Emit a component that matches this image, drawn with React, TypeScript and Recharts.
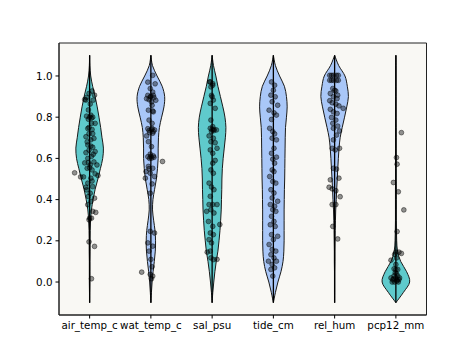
import React from 'react';
import { ScatterChart, Scatter, XAxis, YAxis, CartesianGrid, ReferenceArea } from 'recharts';

// ---------- data ----------
const CATEGORIES = ['air_temp_c', 'wat_temp_c', 'sal_psu', 'tide_cm', 'rel_hum', 'pcp12_mm'];
const POSITIONS = [1, 2, 3, 4, 5, 6];
const Y_TICKS = [0, 0.2, 0.4, 0.6, 0.8, 1.0];

// density levels (value axis) for the violin outlines
const LEVELS = [
  -0.1, -0.05, 0, 0.05, 0.1, 0.15, 0.2, 0.25, 0.3, 0.35, 0.4, 0.45, 0.5,
  0.55, 0.6, 0.65, 0.7, 0.75, 0.8, 0.85, 0.9, 0.95, 1.0, 1.05, 1.1,
];

// relative density (1 = widest) of each violin at LEVELS
const airDensity = [0, 0.01, 0.02, 0.02, 0.02, 0.03, 0.03, 0.04, 0.07, 0.13, 0.25, 0.4, 0.6, 0.78, 0.95, 1.0, 0.9, 0.8, 0.68, 0.55, 0.4, 0.22, 0.08, 0.02, 0];
const watDensity = [0, 0.04, 0.09, 0.16, 0.25, 0.32, 0.34, 0.3, 0.2, 0.12, 0.15, 0.27, 0.4, 0.48, 0.53, 0.53, 0.55, 0.62, 0.78, 0.95, 1.0, 0.82, 0.45, 0.12, 0];
const salDensity = [0, 0.05, 0.12, 0.2, 0.3, 0.42, 0.5, 0.57, 0.62, 0.66, 0.68, 0.7, 0.71, 0.74, 0.8, 0.88, 0.96, 1.0, 0.93, 0.78, 0.6, 0.42, 0.27, 0.1, 0];
const tideDensity = [0, 0.15, 0.33, 0.55, 0.7, 0.76, 0.78, 0.78, 0.78, 0.78, 0.79, 0.8, 0.82, 0.83, 0.84, 0.85, 0.86, 0.88, 0.95, 1.0, 0.95, 0.8, 0.45, 0.15, 0];
const relDensity = [0, 0.01, 0.01, 0.01, 0.02, 0.02, 0.03, 0.04, 0.06, 0.08, 0.12, 0.15, 0.19, 0.23, 0.27, 0.32, 0.4, 0.55, 0.72, 0.88, 1.0, 0.92, 0.75, 0.3, 0];
const pcpDensity = [0, 0.55, 1.0, 0.78, 0.35, 0.12, 0.06, 0.04, 0.03, 0.03, 0.03, 0.03, 0.02, 0.02, 0.02, 0.02, 0.02, 0.02, 0.01, 0.01, 0.01, 0.01, 0.01, 0.01, 0];

// observations: [horizontal jitter, value]
const airPoints: [number, number][] = [
  [-0.08, 0.886], [-0.05, 0.896], [-0.01, 0.915], [0.04, 0.927], [0.08, 0.907], [-0.06, 0.883],
  [0.06, 0.883], [0.01, 0.864], [-0.02, 0.835], [0.02, 0.81], [-0.05, 0.805], [0.05, 0.8],
  [-0.02, 0.79], [0.03, 0.77], [0.09, 0.77], [-0.03, 0.745], [0.04, 0.74], [-0.01, 0.72],
  [-0.06, 0.705], [0.07, 0.697], [0.02, 0.69], [-0.03, 0.665], [0.05, 0.654], [-0.01, 0.64],
  [-0.06, 0.628], [0.09, 0.633], [0.03, 0.61], [-0.03, 0.6], [0.07, 0.583], [-0.08, 0.578],
  [0.01, 0.568], [0.12, 0.568], [-0.04, 0.552], [0.04, 0.544], [0.09, 0.525], [-0.245, 0.53],
  [-0.147, 0.51], [-0.1, 0.51], [0.136, 0.517], [0.02, 0.504], [-0.03, 0.48], [0.05, 0.463],
  [-0.05, 0.447], [0.01, 0.431], [-0.02, 0.415], [0.08, 0.407], [0.02, 0.391], [-0.03, 0.375],
  [0.05, 0.343], [0.1, 0.338], [0.03, 0.31], [-0.01, 0.302], [-0.01, 0.195], [0.08, 0.173],
  [0.03, 0.016], [0.0, 0.8], [0.03, 0.795], [-0.01, 0.75], [0.05, 0.72], [-0.04, 0.68],
  [0.02, 0.66], [0.06, 0.62], [-0.02, 0.58], [0.0, 0.555], [0.04, 0.49], [-0.06, 0.46], [0.0, 0.31],
];
const watPoints: [number, number][] = [
  [0.03, 1.003], [-0.05, 0.97], [0.07, 0.962], [-0.01, 0.939], [0.03, 0.922], [-0.05, 0.906],
  [-0.01, 0.899], [0.04, 0.906], [0.08, 0.882], [-0.07, 0.89], [0.01, 0.874], [-0.04, 0.834],
  [0.03, 0.83], [-0.03, 0.786], [0.02, 0.77], [-0.05, 0.744], [0.01, 0.74], [0.06, 0.738],
  [-0.02, 0.725], [-0.07, 0.709], [0.03, 0.722], [-0.04, 0.681], [0.01, 0.657], [-0.01, 0.621],
  [-0.05, 0.608], [0.04, 0.612], [0.01, 0.601], [-0.04, 0.561], [0.03, 0.552], [-0.08, 0.536],
  [-0.01, 0.528], [0.06, 0.512], [-0.09, 0.504], [0.02, 0.476], [-0.01, 0.431], [-0.01, 0.246],
  [0.06, 0.238], [-0.05, 0.19], [0.03, 0.174], [-0.03, 0.15], [0.0, 0.11], [0.02, 0.074],
  [-0.15, 0.048], [-0.01, 0.037], [0.03, 0.029], [0.01, 0.016], [0.19, 0.585], [0.0, 0.9],
  [0.05, 0.895], [-0.03, 0.885], [0.02, 0.745], [-0.03, 0.735], [0.04, 0.73], [0.0, 0.61],
  [-0.02, 0.6], [0.05, 0.605], [-0.03, 0.55], [0.02, 0.858], [0.04, 0.826],
];
const salPoints: [number, number][] = [
  [-0.03, 0.971], [0.01, 0.963], [-0.02, 0.947], [0.0, 0.899], [0.02, 0.883], [-0.03, 0.867],
  [0.05, 0.843], [-0.02, 0.786], [0.01, 0.754], [-0.03, 0.746], [0.03, 0.741], [0.07, 0.738],
  [-0.01, 0.73], [-0.05, 0.709], [0.02, 0.698], [-0.02, 0.681], [0.05, 0.676], [-0.03, 0.641],
  [0.08, 0.649], [0.01, 0.625], [0.05, 0.59], [0.01, 0.577], [-0.02, 0.544], [0.02, 0.528],
  [-0.05, 0.48], [-0.01, 0.461], [0.03, 0.448], [-0.03, 0.416], [-0.05, 0.376], [0.01, 0.376],
  [0.08, 0.376], [-0.02, 0.351], [-0.09, 0.343], [0.03, 0.335], [-0.06, 0.294], [0.125, 0.279],
  [0.01, 0.27], [-0.03, 0.238], [0.02, 0.23], [-0.05, 0.206], [-0.01, 0.19], [-0.03, 0.15],
  [-0.08, 0.145], [-0.02, 0.117], [0.02, 0.109], [0.08, 0.11], [-0.04, 0.971], [0.01, 0.955],
  [-0.01, 0.906], [0.0, 0.74], [0.03, 0.735],
];
const tidePoints: [number, number][] = [
  [-0.03, 0.971], [0.02, 0.955], [0.0, 0.931], [-0.04, 0.907], [0.03, 0.899], [-0.02, 0.875],
  [0.07, 0.858], [-0.07, 0.834], [0.01, 0.821], [0.05, 0.81], [-0.03, 0.789], [-0.06, 0.746],
  [-0.01, 0.73], [0.02, 0.719], [-0.02, 0.698], [0.05, 0.69], [0.01, 0.649], [-0.03, 0.625],
  [0.05, 0.606], [-0.01, 0.596], [0.02, 0.577], [-0.02, 0.544], [0.01, 0.536], [-0.06, 0.512],
  [-0.01, 0.488], [0.04, 0.48], [-0.04, 0.448], [0.01, 0.432], [-0.02, 0.408], [0.07, 0.392],
  [-0.05, 0.376], [0.02, 0.368], [-0.01, 0.351], [0.04, 0.343], [-0.03, 0.319], [0.01, 0.294],
  [-0.05, 0.278], [0.03, 0.27], [-0.03, 0.23], [0.07, 0.222], [0.0, 0.206], [-0.07, 0.182],
  [-0.02, 0.158], [0.04, 0.15], [-0.04, 0.133], [0.01, 0.117], [-0.08, 0.101], [0.05, 0.101],
  [-0.02, 0.085], [0.02, 0.069], [-0.04, 0.061], [-0.01, 0.029],
];
const relPoints: [number, number][] = [
  [-0.05, 1.003], [-0.02, 1.003], [0.03, 1.003], [-0.05, 0.979], [-0.02, 0.979], [0.03, 0.979],
  [-0.08, 1.003], [0.06, 1.003], [-0.08, 0.979], [0.06, 0.979], [-0.03, 0.939], [0.02, 0.927],
  [-0.07, 0.915], [0.05, 0.907], [-0.02, 0.899], [-0.08, 0.88], [-0.04, 0.87], [0.02, 0.863],
  [0.07, 0.855], [-0.07, 0.838], [-0.02, 0.826], [0.14, 0.843], [0.04, 0.818], [-0.05, 0.799],
  [0.02, 0.786], [-0.03, 0.77], [0.05, 0.757], [-0.02, 0.746], [0.08, 0.733], [0.03, 0.713],
  [-0.02, 0.69], [-0.04, 0.649], [0.08, 0.649], [0.01, 0.641], [-0.02, 0.552], [0.03, 0.548],
  [0.07, 0.504], [-0.07, 0.496], [-0.09, 0.46], [-0.04, 0.452], [0.02, 0.443], [0.09, 0.414],
  [-0.04, 0.376], [0.02, 0.376], [-0.03, 0.27], [0.05, 0.209], [0.0, 0.93], [0.04, 0.89],
];
const pcpPoints: [number, number][] = [
  [0.09, 0.725], [0.01, 0.604], [0.02, 0.572], [-0.04, 0.483], [0.04, 0.438], [0.13, 0.35],
  [0.02, 0.245], [0.0, 0.145], [0.05, 0.145], [0.09, 0.139], [-0.02, 0.134], [0.01, 0.117],
  [-0.08, 0.106], [0.0, 0.085], [-0.03, 0.064], [0.03, 0.061], [-0.08, 0.02], [-0.05, 0.01],
  [-0.02, 0.0], [0.0, 0.02], [0.02, 0.01], [0.04, 0.0], [0.06, 0.02], [-0.03, 0.03],
  [0.01, 0.04], [-0.06, 0.0], [0.03, 0.03], [-0.01, 0.045], [0.0, 0.06], [0.02, 0.005],
  [-0.04, 0.015], [0.05, 0.012],
];

const DENSITIES = [airDensity, watDensity, salDensity, tideDensity, relDensity, pcpDensity];
const POINTS = [airPoints, watPoints, salPoints, tidePoints, relPoints, pcpPoints];

// ---------- styles ----------
const TEAL = '#5fcacc';
const BLUE = '#a9c7f8';
const BODY_COLORS = [TEAL, BLUE, TEAL, BLUE, BLUE, TEAL];
const MAX_HALF = 0.225;
const FONT = { fontSize: 10.3, fill: '#000', fontFamily: 'DejaVu Sans, sans-serif' };

type P = { x: number; y: number };

function outline(pos: number, dens: number[]) {
  const right = LEVELS.map((y, i) => ({ x: pos + dens[i] * MAX_HALF, y }));
  const left = LEVELS.map((y, i) => ({ x: pos - dens[i] * MAX_HALF, y })).reverse();
  return [...right, ...left];
}

function splineSeg(pts: P[]) {
  let d = '';
  const n = pts.length;
  for (let i = 0; i < n - 1; i++) {
    const p0 = pts[Math.max(0, i - 1)];
    const p1 = pts[i];
    const p2 = pts[i + 1];
    const p3 = pts[Math.min(n - 1, i + 2)];
    const c1x = p1.x + (p2.x - p0.x) / 6;
    const c1y = p1.y + (p2.y - p0.y) / 6;
    const c2x = p2.x - (p3.x - p1.x) / 6;
    const c2y = p2.y - (p3.y - p1.y) / 6;
    d += ` C${c1x},${c1y} ${c2x},${c2y} ${p2.x},${p2.y}`;
  }
  return d;
}

const makeViolinLine = (color: string) => (props: any) => {
  const pts: P[] = (props.points || []).filter((p: any) => p.x != null && p.y != null);
  if (pts.length < 4) return <g />;
  const n = pts.length / 2;
  const right = pts.slice(0, n);
  const left = pts.slice(n);
  const d = `M${right[0].x},${right[0].y}` + splineSeg(right) + ` L${left[0].x},${left[0].y}` + splineSeg(left) + ' Z';
  return <path d={d} fill={color} stroke="#1a1a1a" strokeWidth={1} />;
};

const Empty = () => <g />;

const Dot = (props: any) => (
  <circle cx={props.cx} cy={props.cy} r={2.4} fill="#000" fillOpacity={0.42} stroke="#000" strokeOpacity={0.55} strokeWidth={0.8} />
);

export default function App() {
  return (
    <ScatterChart width={458} height={339} margin={{ top: 35, right: 39.5, bottom: 2, left: 11 }}>
      <CartesianGrid horizontal={false} vertical={false} fill="#f9f8f4" />
      <XAxis
        type="number"
        dataKey="x"
        domain={[0.5, 6.5]}
        ticks={POSITIONS}
        interval={0}
        allowDataOverflow
        tickFormatter={(v: number) => CATEGORIES[Math.round(v) - 1]}
        tick={FONT}
        tickSize={3.5}
        tickMargin={3}
        tickLine={{ stroke: '#000' }}
        axisLine={{ stroke: '#222' }}
        height={30}
      />
      <YAxis
        type="number"
        dataKey="y"
        domain={[-0.16, 1.16]}
        ticks={Y_TICKS}
        interval={0}
        allowDataOverflow
        tickFormatter={(v: number) => v.toFixed(1)}
        tick={FONT}
        tickSize={3.5}
        tickMargin={3}
        tickLine={{ stroke: '#000' }}
        axisLine={{ stroke: '#222' }}
        width={40}
      />
      {POSITIONS.map((pos, i) => (
        <Scatter
          key={`violin-${i}`}
          data={outline(pos, DENSITIES[i])}
          line={makeViolinLine(BODY_COLORS[i])}
          lineType="joint"
          shape={Empty}
          isAnimationActive={false}
        />
      ))}
      {POSITIONS.map((pos, i) => (
        <Scatter
          key={`bar-${i}`}
          data={[{ x: pos, y: LEVELS[0] }, { x: pos, y: LEVELS[LEVELS.length - 1] }]}
          line={{ stroke: '#000', strokeWidth: 1.3 }}
          lineType="joint"
          shape={Empty}
          isAnimationActive={false}
        />
      ))}
      {POSITIONS.map((pos, i) => (
        <Scatter
          key={`pts-${i}`}
          data={POINTS[i].map(([dx, v]) => ({ x: pos + dx, y: v }))}
          shape={Dot}
          isAnimationActive={false}
        />
      ))}
      <ReferenceArea x1={0.5} x2={6.5} y1={-0.16} y2={1.16} fill="none" stroke="#222" strokeWidth={1} ifOverflow="visible" />
    </ScatterChart>
  );
}
